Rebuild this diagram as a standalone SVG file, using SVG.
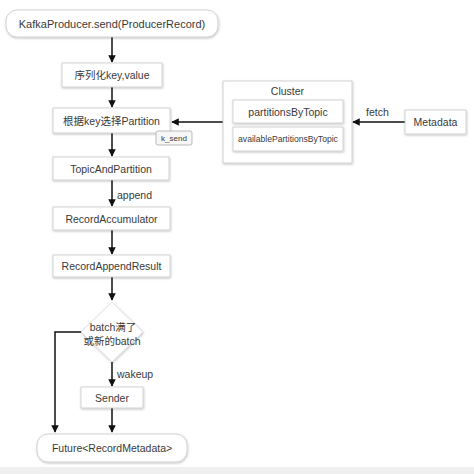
<svg xmlns="http://www.w3.org/2000/svg" width="474" height="474" viewBox="0 0 474 474">
<style>
.box{fill:#fff;stroke:#c8c8c8;stroke-width:0.8;filter:url(#sh)}
.t{font-family:"Liberation Sans","Noto Sans CJK SC",sans-serif;font-size:10.5px;fill:#3a3a3a;text-anchor:middle;dominant-baseline:central}
.s{font-size:8px}
.c{stroke:#111;stroke-width:1.5;fill:none}
.lbl{font-family:"Liberation Sans",sans-serif;font-size:10.5px;fill:#3a3a3a}
</style>
<defs>
<filter id="sh" x="-20%" y="-30%" width="140%" height="160%"><feDropShadow dx="0.5" dy="1" stdDeviation="1" flood-color="#000" flood-opacity="0.25"/></filter>
<marker id="ah" viewBox="0 0 10 10" refX="9" refY="5" markerWidth="5" markerHeight="5" orient="auto"><path d="M0,0L10,5L0,10z" fill="#111"/></marker>
</defs>
<rect width="474" height="474" fill="#fff"/>
<rect y="467" width="474" height="7" fill="#efefef"/>
<g id="connectors">
<path class="c" d="M112,37V62" marker-end="url(#ah)"/>
<path class="c" d="M112,87V107" marker-end="url(#ah)"/>
<path class="c" d="M112,133V156" marker-end="url(#ah)"/>
<path class="c" d="M112,180V206" marker-end="url(#ah)"/>
<path class="c" d="M112,230V254" marker-end="url(#ah)"/>
<path class="c" d="M112,277V300" marker-end="url(#ah)"/>
<path class="c" d="M112,362V386" marker-end="url(#ah)"/>
<path class="c" d="M112,408V432" marker-end="url(#ah)"/>
<path class="c" d="M82,332H55V432" marker-end="url(#ah)"/>
<path class="c" d="M223,122H172" marker-end="url(#ah)"/>
<path class="c" d="M405,122H353" marker-end="url(#ah)"/>
<text class="lbl" x="117" y="199">append</text>
<text class="lbl" x="117" y="378">wakeup</text>
<text class="lbl" x="366" y="116">fetch</text>
</g>
<g id="n-send"><rect class="box" x="6" y="10" width="212" height="27" rx="11"/><text class="t" x="112" y="23.5" style="font-size:11px">KafkaProducer.send(ProducerRecord)</text></g>
<g id="n-serialize"><rect class="box" x="62" y="63" width="100" height="24"/><text class="t" x="112" y="75">序列化key,value</text></g>
<g id="n-partition"><rect class="box" x="53" y="108" width="117" height="25"/><text class="t" x="111.5" y="120.5">根据key选择Partition</text></g>
<g id="n-ksend"><rect x="156" y="131" width="36" height="14" rx="2" fill="#f7f7f7" stroke="#aaa" stroke-width="0.8"/><text class="t s" x="174" y="138">k_send</text></g>
<g id="n-tap"><rect class="box" x="53" y="157" width="116" height="23"/><text class="t" x="111" y="168.5">TopicAndPartition</text></g>
<g id="n-acc"><rect class="box" x="53" y="207" width="117" height="23"/><text class="t" x="111.5" y="218.5">RecordAccumulator</text></g>
<g id="n-result"><rect class="box" x="53" y="255" width="117" height="22"/><text class="t" x="111.5" y="266">RecordAppendResult</text></g>
<g id="n-decision"><path d="M112,302L143,332L112,362L81,332Z" fill="#fff" stroke="#d8d8d8" stroke-width="0.8" filter="url(#sh)"/><text class="t" x="113" y="327">batch满了</text><text class="t" x="112" y="341">或新的batch</text></g>
<g id="n-sender"><rect class="box" x="81" y="387" width="62" height="21"/><text class="t" x="112" y="397.5">Sender</text></g>
<g id="n-future"><rect class="box" x="37" y="434" width="150" height="28" rx="11"/><text class="t" x="112" y="448">Future&lt;RecordMetadata&gt;</text></g>
<g id="n-cluster"><rect class="box" x="223" y="81" width="129" height="82"/><text class="t" x="287.5" y="91">Cluster</text>
<rect class="box" x="233" y="100" width="110" height="23"/><text class="t" x="288" y="111.5">partitionsByTopic</text>
<rect class="box" x="233" y="127" width="110" height="24"/><text class="t" x="288" y="139" style="font-size:8.6px">availablePartitionsByTopic</text></g>
<g id="n-metadata"><rect class="box" x="405" y="110" width="61" height="24"/><text class="t" x="435.5" y="122">Metadata</text></g>
</svg>
